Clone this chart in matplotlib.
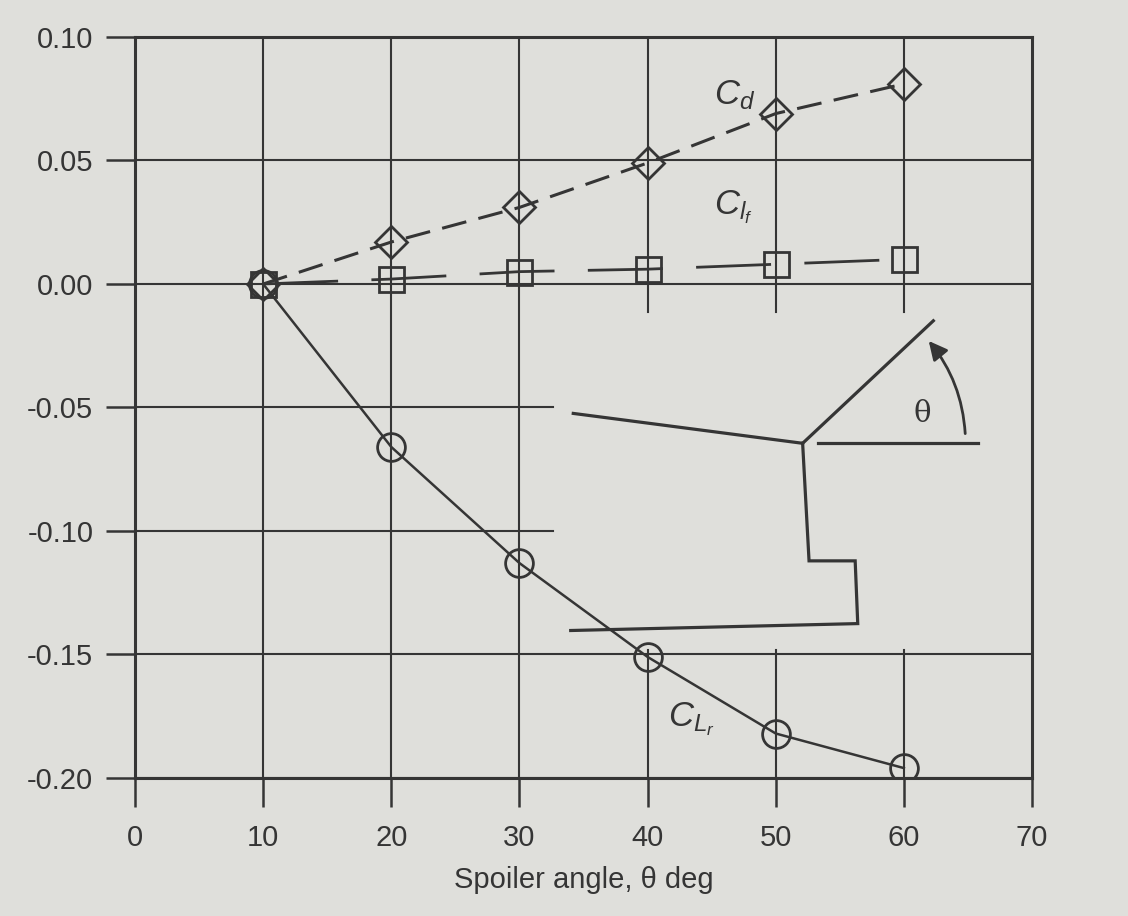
import numpy as np
import matplotlib
matplotlib.use('Agg')
import matplotlib.pyplot as plt
from matplotlib.patches import FancyArrowPatch

plt.rcParams['font.family'] = ['Liberation Sans', 'DejaVu Sans']
plt.rcParams['mathtext.fontset'] = 'custom'
plt.rcParams['mathtext.it'] = 'Liberation Sans:italic'
plt.rcParams['mathtext.rm'] = 'Liberation Sans'
plt.rcParams['lines.scale_dashes'] = False

# spoiler angle (deg)
angle = [10, 20, 30, 40, 50, 60]
cd = [0.0, 0.017, 0.031, 0.049, 0.069, 0.081]
clf = [0.0, 0.002, 0.005, 0.006, 0.008, 0.010]
clr = [0.0, -0.066, -0.113, -0.151, -0.182, -0.196]

xticks = [0, 10, 20, 30, 40, 50, 60, 70]
yticks = [0.10, 0.05, 0.00, -0.05, -0.10, -0.15, -0.20]

# wing / spoiler sketch (drawn in data units)
upper_x = [34.2, 52.1]
upper_y = [-0.0524, -0.0645]
spoiler_x = [52.1, 62.3]
spoiler_y = [-0.0645, -0.0149]
ref_x = [53.3, 65.8]
ref_y = [-0.0645, -0.0645]
body_x = [52.1, 52.6, 56.2, 56.4, 34.0]
body_y = [-0.0645, -0.1121, -0.1121, -0.1375, -0.1403]

bg = '#dfdfdb'
ink = '#353535'

fig = plt.figure(figsize=(11.28, 9.16), dpi=100, facecolor=bg)
ax = fig.add_axes([0.1197, 0.1507, 0.7952, 0.8089])
ax.set_facecolor(bg)
ax.set_xlim(0, 70)
ax.set_ylim(-0.20, 0.10)

# grid, with a gap left for the sketch
gap_x = 32.6
gap_top, gap_bot = -0.0113, -0.148
for y in yticks:
    if y in (-0.05, -0.10):
        ax.plot([0, gap_x], [y, y], color=ink, lw=1.5, zorder=1)
    else:
        ax.axhline(y, color=ink, lw=1.5, zorder=1)
for x in xticks[1:-1]:
    if x >= 40:
        ax.plot([x, x], [0.10, gap_top], color=ink, lw=1.5, zorder=1)
        ax.plot([x, x], [gap_bot, -0.20], color=ink, lw=1.5, zorder=1)
    else:
        ax.axvline(x, color=ink, lw=1.5, zorder=1)

ax.plot(angle, cd, color=ink, lw=2.2, ls=(0, (18, 9)), marker='D', ms=16,
        mfc='none', mec=ink, mew=2.0, zorder=3)
ax.plot(angle, clf, color=ink, lw=2.0, ls=(0, (54, 24)), marker='s', ms=18,
        mfc='none', mec=ink, mew=2.0, zorder=3)
ax.plot(angle, clr, color=ink, lw=1.8, marker='o', ms=20,
        mfc='none', mec=ink, mew=2.0, zorder=3)

ax.text(46.8, 0.0766, r'$C_d$', fontsize=25, color=ink, ha='center', va='center')
ax.text(46.7, 0.031, r'$C_{l_f}$', fontsize=25, color=ink, ha='center', va='center')
ax.text(43.4, -0.176, r'$C_{L_r}$', fontsize=25, color=ink, ha='center', va='center')

# sketch
for xs, ys in [(upper_x, upper_y), (spoiler_x, spoiler_y), (ref_x, ref_y), (body_x, body_y)]:
    ax.plot(xs, ys, color=ink, lw=2.3, solid_joinstyle='miter', zorder=2)
arc = FancyArrowPatch((64.8, -0.0617), (61.8, -0.0222),
                      connectionstyle='arc3,rad=0.17', arrowstyle='-|>',
                      mutation_scale=28, color=ink, lw=2.0, zorder=2)
ax.add_patch(arc)
ax.text(61.4, -0.0525, '\u03b8', fontsize=21, color=ink, family='DejaVu Serif',
        ha='center', va='center')

ax.set_xticks(xticks)
ax.set_yticks(yticks)
ax.set_yticklabels(['0.10', '0.05', '0.00', '-0.05', '-0.10', '-0.15', '-0.20'])
ax.tick_params(direction='out', length=21, width=1.8, colors=ink, labelsize=21)
ax.tick_params(axis='x', pad=12)
ax.tick_params(axis='y', pad=9)
for s in ax.spines.values():
    s.set_linewidth(2.2)
    s.set_color(ink)
ax.set_xlabel('Spoiler angle, \u03b8 deg', fontsize=21, color=ink, labelpad=10)

fig.savefig('out.png', dpi=100, facecolor=bg)
